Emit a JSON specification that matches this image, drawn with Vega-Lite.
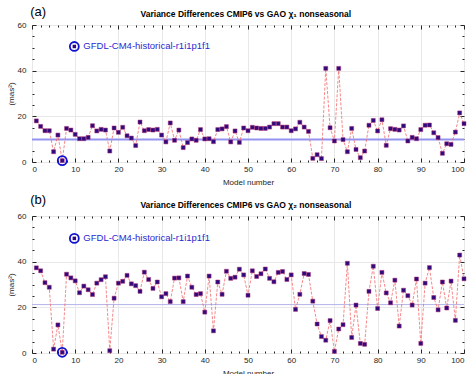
{
  "$schema": "https://vega.github.io/schema/vega-lite/v6.json",
  "padding": {"left": 6, "top": 5, "right": 8, "bottom": 0},
  "background": "white",
  "config": {
    "view": {"stroke": "#262626", "strokeWidth": 1},
    "font": "Liberation Sans",
    "axis": {
      "domain": false,
      "labelFont": "Liberation Sans",
      "labelFontSize": 8,
      "labelColor": "#262626",
      "tickColor": "#262626",
      "gridColor": "#e8e8e8",
      "titleFont": "Liberation Sans",
      "titleFontSize": 8,
      "titleFontWeight": "normal",
      "titleColor": "#262626"
    }
  },
  "datasets": {
    "cmip": [
      {"n":1,"a":18.0,"b":37.3},{"n":2,"a":15.6,"b":36.0},{"n":3,"a":13.7,"b":30.8},{"n":4,"a":13.7,"b":28.8},{"n":5,"a":4.5,"b":1.7},
      {"n":6,"a":11.8,"b":12.3},{"n":7,"a":0.6,"b":0.3},{"n":8,"a":14.7,"b":34.5},{"n":9,"a":14.0,"b":32.9},{"n":10,"a":12.1,"b":31.6},
      {"n":11,"a":10.2,"b":26.4},{"n":12,"a":10.2,"b":29.3},{"n":13,"a":10.8,"b":27.7},{"n":14,"a":15.9,"b":25.6},{"n":15,"a":13.6,"b":30.6},
      {"n":16,"a":14.3,"b":32.1},{"n":17,"a":14.0,"b":33.4},{"n":18,"a":4.8,"b":1.0},{"n":19,"a":14.9,"b":24.0},{"n":20,"a":13.0,"b":30.6},
      {"n":21,"a":15.2,"b":31.4},{"n":22,"a":11.5,"b":34.0},{"n":23,"a":10.5,"b":30.3},{"n":24,"a":7.2,"b":29.5},{"n":25,"a":17.5,"b":27.0},
      {"n":26,"a":13.7,"b":35.4},{"n":27,"a":14.2,"b":32.2},{"n":28,"a":14.0,"b":28.3},{"n":29,"a":14.3,"b":31.1},{"n":30,"a":11.8,"b":24.6},
      {"n":31,"a":8.8,"b":26.0},{"n":32,"a":17.1,"b":22.5},{"n":33,"a":9.5,"b":32.8},{"n":34,"a":14.0,"b":32.9},{"n":35,"a":6.3,"b":22.5},
      {"n":36,"a":8.5,"b":33.7},{"n":37,"a":10.1,"b":28.8},{"n":38,"a":9.5,"b":25.6},{"n":39,"a":14.2,"b":26.0},{"n":40,"a":10.1,"b":17.9},
      {"n":41,"a":10.2,"b":33.7},{"n":42,"a":8.9,"b":9.7},{"n":43,"a":14.2,"b":31.1},{"n":44,"a":14.5,"b":25.7},{"n":45,"a":15.5,"b":35.8},
      {"n":46,"a":8.8,"b":32.7},{"n":47,"a":13.6,"b":33.2},{"n":48,"a":8.6,"b":36.7},{"n":49,"a":14.9,"b":34.2},{"n":50,"a":13.7,"b":25.3},
      {"n":51,"a":15.2,"b":36.0},{"n":52,"a":14.9,"b":33.5},{"n":53,"a":14.7,"b":34.7},{"n":54,"a":14.7,"b":36.8},{"n":55,"a":15.3,"b":32.7},
      {"n":56,"a":16.8,"b":31.2},{"n":57,"a":16.8,"b":35.3},{"n":58,"a":15.3,"b":35.7},{"n":59,"a":15.3,"b":32.2},{"n":60,"a":13.7,"b":34.2},
      {"n":61,"a":14.5,"b":19.1},{"n":62,"a":17.4,"b":25.7},{"n":63,"a":15.3,"b":34.8},{"n":64,"a":13.4,"b":34.4},{"n":65,"a":1.6,"b":22.7},
      {"n":66,"a":3.2,"b":12.7},{"n":67,"a":1.5,"b":7.2},{"n":68,"a":41.0,"b":5.6},{"n":69,"a":15.0,"b":14.2},{"n":70,"a":9.2,"b":0.7},
      {"n":71,"a":41.0,"b":10.5},{"n":72,"a":9.8,"b":12.4},{"n":73,"a":4.5,"b":39.3},{"n":74,"a":14.7,"b":6.8},{"n":75,"a":5.5,"b":21.0},
      {"n":76,"a":1.9,"b":4.2},{"n":77,"a":4.8,"b":3.8},{"n":78,"a":16.1,"b":27.0},{"n":79,"a":18.2,"b":38.0},{"n":80,"a":13.6,"b":19.5},
      {"n":81,"a":18.5,"b":35.3},{"n":82,"a":7.3,"b":26.3},{"n":83,"a":14.6,"b":22.0},{"n":84,"a":14.3,"b":31.9},{"n":85,"a":14.0,"b":11.8},
      {"n":86,"a":15.8,"b":27.5},{"n":87,"a":9.2,"b":25.1},{"n":88,"a":10.8,"b":21.0},{"n":89,"a":10.2,"b":32.4},{"n":90,"a":14.2,"b":4.2},
      {"n":91,"a":16.1,"b":30.6},{"n":92,"a":16.2,"b":37.4},{"n":93,"a":12.8,"b":24.3},{"n":94,"a":10.7,"b":18.9},{"n":95,"a":3.8,"b":31.1},
      {"n":96,"a":8.0,"b":19.7},{"n":97,"a":7.7,"b":31.5},{"n":98,"a":13.1,"b":14.3},{"n":99,"a":21.5,"b":42.9},{"n":100,"a":16.8,"b":32.5}
    ]
  },
  "bounds": "flush",
  "spacing": 54,
  "vconcat": [
    {
      "width": 432,
      "height": 137,
      "data": {"name": "cmip"},
      "layer": [
        {
          "data": {"values": [{}]},
          "mark": {"type": "rule", "color": "#9494f0", "strokeWidth": 2},
          "encoding": {
            "x": {"datum": 0, "type": "quantitative", "scale": {"domain": [0, 100], "nice": false}, "axis": {"orient": "bottom", "values": [0,10,20,30,40,50,60,70,80,90,100], "tickSize": -4, "labelPadding": 7, "grid": true, "title": "Model number", "titlePadding": 5}},
            "x2": {"datum": 100},
            "y": {"datum": 9.8, "type": "quantitative", "scale": {"domain": [0, 60], "nice": false}, "axis": {"orient": "left", "values": [0,20,40,60], "tickSize": -4, "labelPadding": 10, "grid": true, "title": "(mas²)", "titlePadding": 2}}
          }
        },
        {
          "mark": {"type": "line", "color": "#f26b6b", "strokeWidth": 0.8, "strokeDash": [3, 1.5]},
          "encoding": {
            "x": {"field": "n", "type": "quantitative", "scale": {"domain": [0, 100], "nice": false}, "axis": {"orient": "top", "values": [0,10,20,30,40,50,60,70,80,90,100], "tickSize": -4, "labels": false, "grid": false, "title": null}},
            "y": {"field": "a", "type": "quantitative", "scale": {"domain": [0, 60], "nice": false}, "axis": {"orient": "right", "values": [0,20,40,60], "tickSize": -4, "labels": false, "grid": false, "title": null}}
          }
        },
        {
          "mark": {"type": "point", "shape": "square", "filled": true, "size": 16, "color": "#2d0a7d", "stroke": "#b03070", "strokeWidth": 0.5, "opacity": 1},
          "encoding": {
            "x": {"field": "n", "type": "quantitative", "scale": {"domain": [0, 100], "nice": false}, "axis": {"orient": "bottom", "values": [2,4,6,8,12,14,16,18,22,24,26,28,32,34,36,38,42,44,46,48,52,54,56,58,62,64,66,68,72,74,76,78,82,84,86,88,92,94,96,98], "tickSize": -2, "labels": false, "grid": false, "title": null}},
            "y": {"field": "a", "type": "quantitative", "scale": {"domain": [0, 60], "nice": false}, "axis": {"orient": "left", "values": [5,10,15,25,30,35,45,50,55], "tickSize": -2, "labels": false, "grid": false, "title": null}}
          }
        },
        {
          "transform": [{"filter": "datum.n == 7"}],
          "mark": {"type": "point", "shape": "circle", "filled": false, "size": 80, "color": "#1010d0", "strokeWidth": 1.8, "opacity": 1},
          "encoding": {
            "x": {"field": "n", "type": "quantitative", "scale": {"domain": [0, 100], "nice": false}, "axis": {"orient": "top", "values": [2,4,6,8,12,14,16,18,22,24,26,28,32,34,36,38,42,44,46,48,52,54,56,58,62,64,66,68,72,74,76,78,82,84,86,88,92,94,96,98], "tickSize": -2, "labels": false, "grid": false, "title": null}},
            "y": {"field": "a", "type": "quantitative", "scale": {"domain": [0, 60], "nice": false}, "axis": {"orient": "right", "values": [5,10,15,25,30,35,45,50,55], "tickSize": -2, "labels": false, "grid": false, "title": null}}
          }
        },
        {
          "data": {"values": [{}]},
          "mark": {"type": "point", "shape": "circle", "filled": false, "size": 80, "color": "#1010d0", "strokeWidth": 1.8, "opacity": 1},
          "encoding": {
            "x": {"datum": 9.8, "type": "quantitative", "axis": null},
            "y": {"datum": 50.6, "type": "quantitative", "axis": null}
          }
        },
        {
          "data": {"values": [{}]},
          "mark": {"type": "point", "shape": "square", "filled": true, "size": 12, "color": "#2d0a7d", "opacity": 1},
          "encoding": {
            "x": {"datum": 9.8, "type": "quantitative", "axis": null},
            "y": {"datum": 50.6, "type": "quantitative", "axis": null}
          }
        },
        {
          "data": {"values": [{}]},
          "mark": {"type": "text", "text": "GFDL-CM4-historical-r1i1p1f1", "align": "left", "baseline": "middle", "dx": 9, "font": "Liberation Sans", "fontSize": 9.5, "color": "#2a2ad0"},
          "encoding": {
            "x": {"datum": 9.8, "type": "quantitative", "axis": null},
            "y": {"datum": 50.6, "type": "quantitative", "axis": null}
          }
        },
        {
          "data": {"values": [{}]},
          "mark": {"type": "text", "text": "(a)", "align": "left", "baseline": "middle", "font": "Liberation Sans", "fontSize": 13, "color": "#000000"},
          "encoding": {
            "x": {"datum": -0.4, "type": "quantitative", "axis": null},
            "y": {"datum": 65.9, "type": "quantitative", "axis": null}
          }
        },
        {
          "data": {"values": [{}]},
          "mark": {"type": "text", "text": "Variance Differences CMIP6 vs GAO χ₁ nonseasonal", "align": "center", "baseline": "middle", "font": "Liberation Sans", "fontSize": 8.5, "fontWeight": "bold", "color": "#000000"},
          "encoding": {
            "x": {"datum": 49.5, "type": "quantitative", "axis": null},
            "y": {"datum": 64.6, "type": "quantitative", "axis": null}
          }
        }
      ],
      "resolve": {"axis": {"x": "independent", "y": "independent"}}
    },
    {
      "width": 432,
      "height": 137,
      "data": {"name": "cmip"},
      "layer": [
        {
          "data": {"values": [{}]},
          "mark": {"type": "rule", "color": "#b4b4ea", "strokeWidth": 1},
          "encoding": {
            "x": {"datum": 0, "type": "quantitative", "scale": {"domain": [0, 100], "nice": false}, "axis": {"orient": "bottom", "values": [0,10,20,30,40,50,60,70,80,90,100], "tickSize": -4, "labelPadding": 7, "grid": true, "title": "Model number", "titlePadding": 5}},
            "x2": {"datum": 100},
            "y": {"datum": 21.2, "type": "quantitative", "scale": {"domain": [0, 60], "nice": false}, "axis": {"orient": "left", "values": [0,20,40,60], "tickSize": -4, "labelPadding": 10, "grid": true, "title": "(mas²)", "titlePadding": 2}}
          }
        },
        {
          "mark": {"type": "line", "color": "#f26b6b", "strokeWidth": 0.8, "strokeDash": [3, 1.5]},
          "encoding": {
            "x": {"field": "n", "type": "quantitative", "scale": {"domain": [0, 100], "nice": false}, "axis": {"orient": "top", "values": [0,10,20,30,40,50,60,70,80,90,100], "tickSize": -4, "labels": false, "grid": false, "title": null}},
            "y": {"field": "b", "type": "quantitative", "scale": {"domain": [0, 60], "nice": false}, "axis": {"orient": "right", "values": [0,20,40,60], "tickSize": -4, "labels": false, "grid": false, "title": null}}
          }
        },
        {
          "mark": {"type": "point", "shape": "square", "filled": true, "size": 16, "color": "#2d0a7d", "stroke": "#b03070", "strokeWidth": 0.5, "opacity": 1},
          "encoding": {
            "x": {"field": "n", "type": "quantitative", "scale": {"domain": [0, 100], "nice": false}, "axis": {"orient": "bottom", "values": [2,4,6,8,12,14,16,18,22,24,26,28,32,34,36,38,42,44,46,48,52,54,56,58,62,64,66,68,72,74,76,78,82,84,86,88,92,94,96,98], "tickSize": -2, "labels": false, "grid": false, "title": null}},
            "y": {"field": "b", "type": "quantitative", "scale": {"domain": [0, 60], "nice": false}, "axis": {"orient": "left", "values": [5,10,15,25,30,35,45,50,55], "tickSize": -2, "labels": false, "grid": false, "title": null}}
          }
        },
        {
          "transform": [{"filter": "datum.n == 7"}],
          "mark": {"type": "point", "shape": "circle", "filled": false, "size": 80, "color": "#1010d0", "strokeWidth": 1.8, "opacity": 1},
          "encoding": {
            "x": {"field": "n", "type": "quantitative", "scale": {"domain": [0, 100], "nice": false}, "axis": {"orient": "top", "values": [2,4,6,8,12,14,16,18,22,24,26,28,32,34,36,38,42,44,46,48,52,54,56,58,62,64,66,68,72,74,76,78,82,84,86,88,92,94,96,98], "tickSize": -2, "labels": false, "grid": false, "title": null}},
            "y": {"field": "b", "type": "quantitative", "scale": {"domain": [0, 60], "nice": false}, "axis": {"orient": "right", "values": [5,10,15,25,30,35,45,50,55], "tickSize": -2, "labels": false, "grid": false, "title": null}}
          }
        },
        {
          "data": {"values": [{}]},
          "mark": {"type": "point", "shape": "circle", "filled": false, "size": 80, "color": "#1010d0", "strokeWidth": 1.8, "opacity": 1},
          "encoding": {
            "x": {"datum": 9.8, "type": "quantitative", "axis": null},
            "y": {"datum": 50.2, "type": "quantitative", "axis": null}
          }
        },
        {
          "data": {"values": [{}]},
          "mark": {"type": "point", "shape": "square", "filled": true, "size": 12, "color": "#2d0a7d", "opacity": 1},
          "encoding": {
            "x": {"datum": 9.8, "type": "quantitative", "axis": null},
            "y": {"datum": 50.2, "type": "quantitative", "axis": null}
          }
        },
        {
          "data": {"values": [{}]},
          "mark": {"type": "text", "text": "GFDL-CM4-historical-r1i1p1f1", "align": "left", "baseline": "middle", "dx": 9, "font": "Liberation Sans", "fontSize": 9.5, "color": "#2a2ad0"},
          "encoding": {
            "x": {"datum": 9.8, "type": "quantitative", "axis": null},
            "y": {"datum": 50.2, "type": "quantitative", "axis": null}
          }
        },
        {
          "data": {"values": [{}]},
          "mark": {"type": "text", "text": "(b)", "align": "left", "baseline": "middle", "font": "Liberation Sans", "fontSize": 13, "color": "#000000"},
          "encoding": {
            "x": {"datum": -0.4, "type": "quantitative", "axis": null},
            "y": {"datum": 66.8, "type": "quantitative", "axis": null}
          }
        },
        {
          "data": {"values": [{}]},
          "mark": {"type": "text", "text": "Variance Differences CMIP6 vs GAO χ₂ nonseasonal", "align": "center", "baseline": "middle", "font": "Liberation Sans", "fontSize": 8.5, "fontWeight": "bold", "color": "#000000"},
          "encoding": {
            "x": {"datum": 49.5, "type": "quantitative", "axis": null},
            "y": {"datum": 64.8, "type": "quantitative", "axis": null}
          }
        }
      ],
      "resolve": {"axis": {"x": "independent", "y": "independent"}}
    }
  ]
}
